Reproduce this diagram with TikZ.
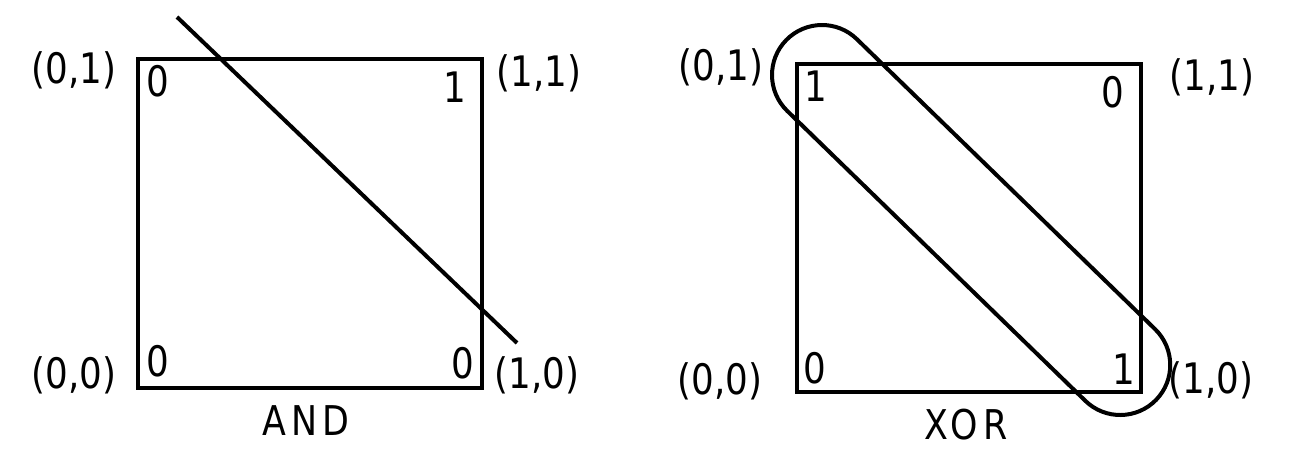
\documentclass[tikz,border=0pt]{standalone}
\usepackage{fontspec}
\setmainfont{DejaVu Sans}[FakeStretch=0.85]
\newfontfamily\spaced{DejaVu Sans}[FakeStretch=0.85,LetterSpace=13]
\begin{document}
\begin{tikzpicture}[x=1pt,y=-1pt,
  lab/.style={inner sep=0pt,font=\fontsize{42}{42}\selectfont},
  gatetitle/.style={inner sep=0pt,font=\spaced\fontsize{41}{41}\selectfont},
  thick line/.style={line width=4pt,line join=miter}]
\useasboundingbox (0,0) rectangle (1302,474);
% AND square
\coordinate (a1) at (138,59);
\coordinate (a2) at (482,388);
\draw[thick line] (a1) rectangle (a2);
\coordinate (l1) at (177,17);
\coordinate (l2) at (517,343);
\draw[thick line] (l1) -- (l2);
\node[lab] (a01) at (74,70) {(0,1)};
\node[lab] (a11) at (539,73) {(1,1)};
\node[lab] (a00) at (74,375) {(0,0)};
\node[lab] (a10) at (537,375) {(1,0)};
\node[lab] (av01) at (158,81) {0};
\node[lab] (av11) at (455,87) {1};
\node[lab] (av00) at (158,361) {0};
\node[lab] (av10) at (463,363) {0};
\node[gatetitle] (and) at (306,421) {AND};
% XOR square
\coordinate (x1) at (797,64);
\coordinate (x2) at (1141,392);
\draw[thick line] (x1) rectangle (x2);
\begin{scope}[shift={(822,75)},rotate=-44.2]
\draw[line width=4pt] (0,-50) -- (416,-50) arc (-90:90:50) -- (0,50) arc (90:270:50) -- cycle;
\end{scope}
\node[lab] (x01) at (721,67) {(0,1)};
\node[lab] (x11) at (1212,77) {(1,1)};
\node[lab] (x00) at (720,381) {(0,0)};
\node[lab] (x10) at (1211,380) {(1,0)};
\node[lab] (xv01) at (816,86) {1};
\node[lab] (xv11) at (1113,92) {0};
\node[lab] (xv00) at (815,368) {0};
\node[lab] (xv10) at (1124,369) {1};
\node[gatetitle] (xor) at (966,425) {XOR};
\end{tikzpicture}
\end{document}
